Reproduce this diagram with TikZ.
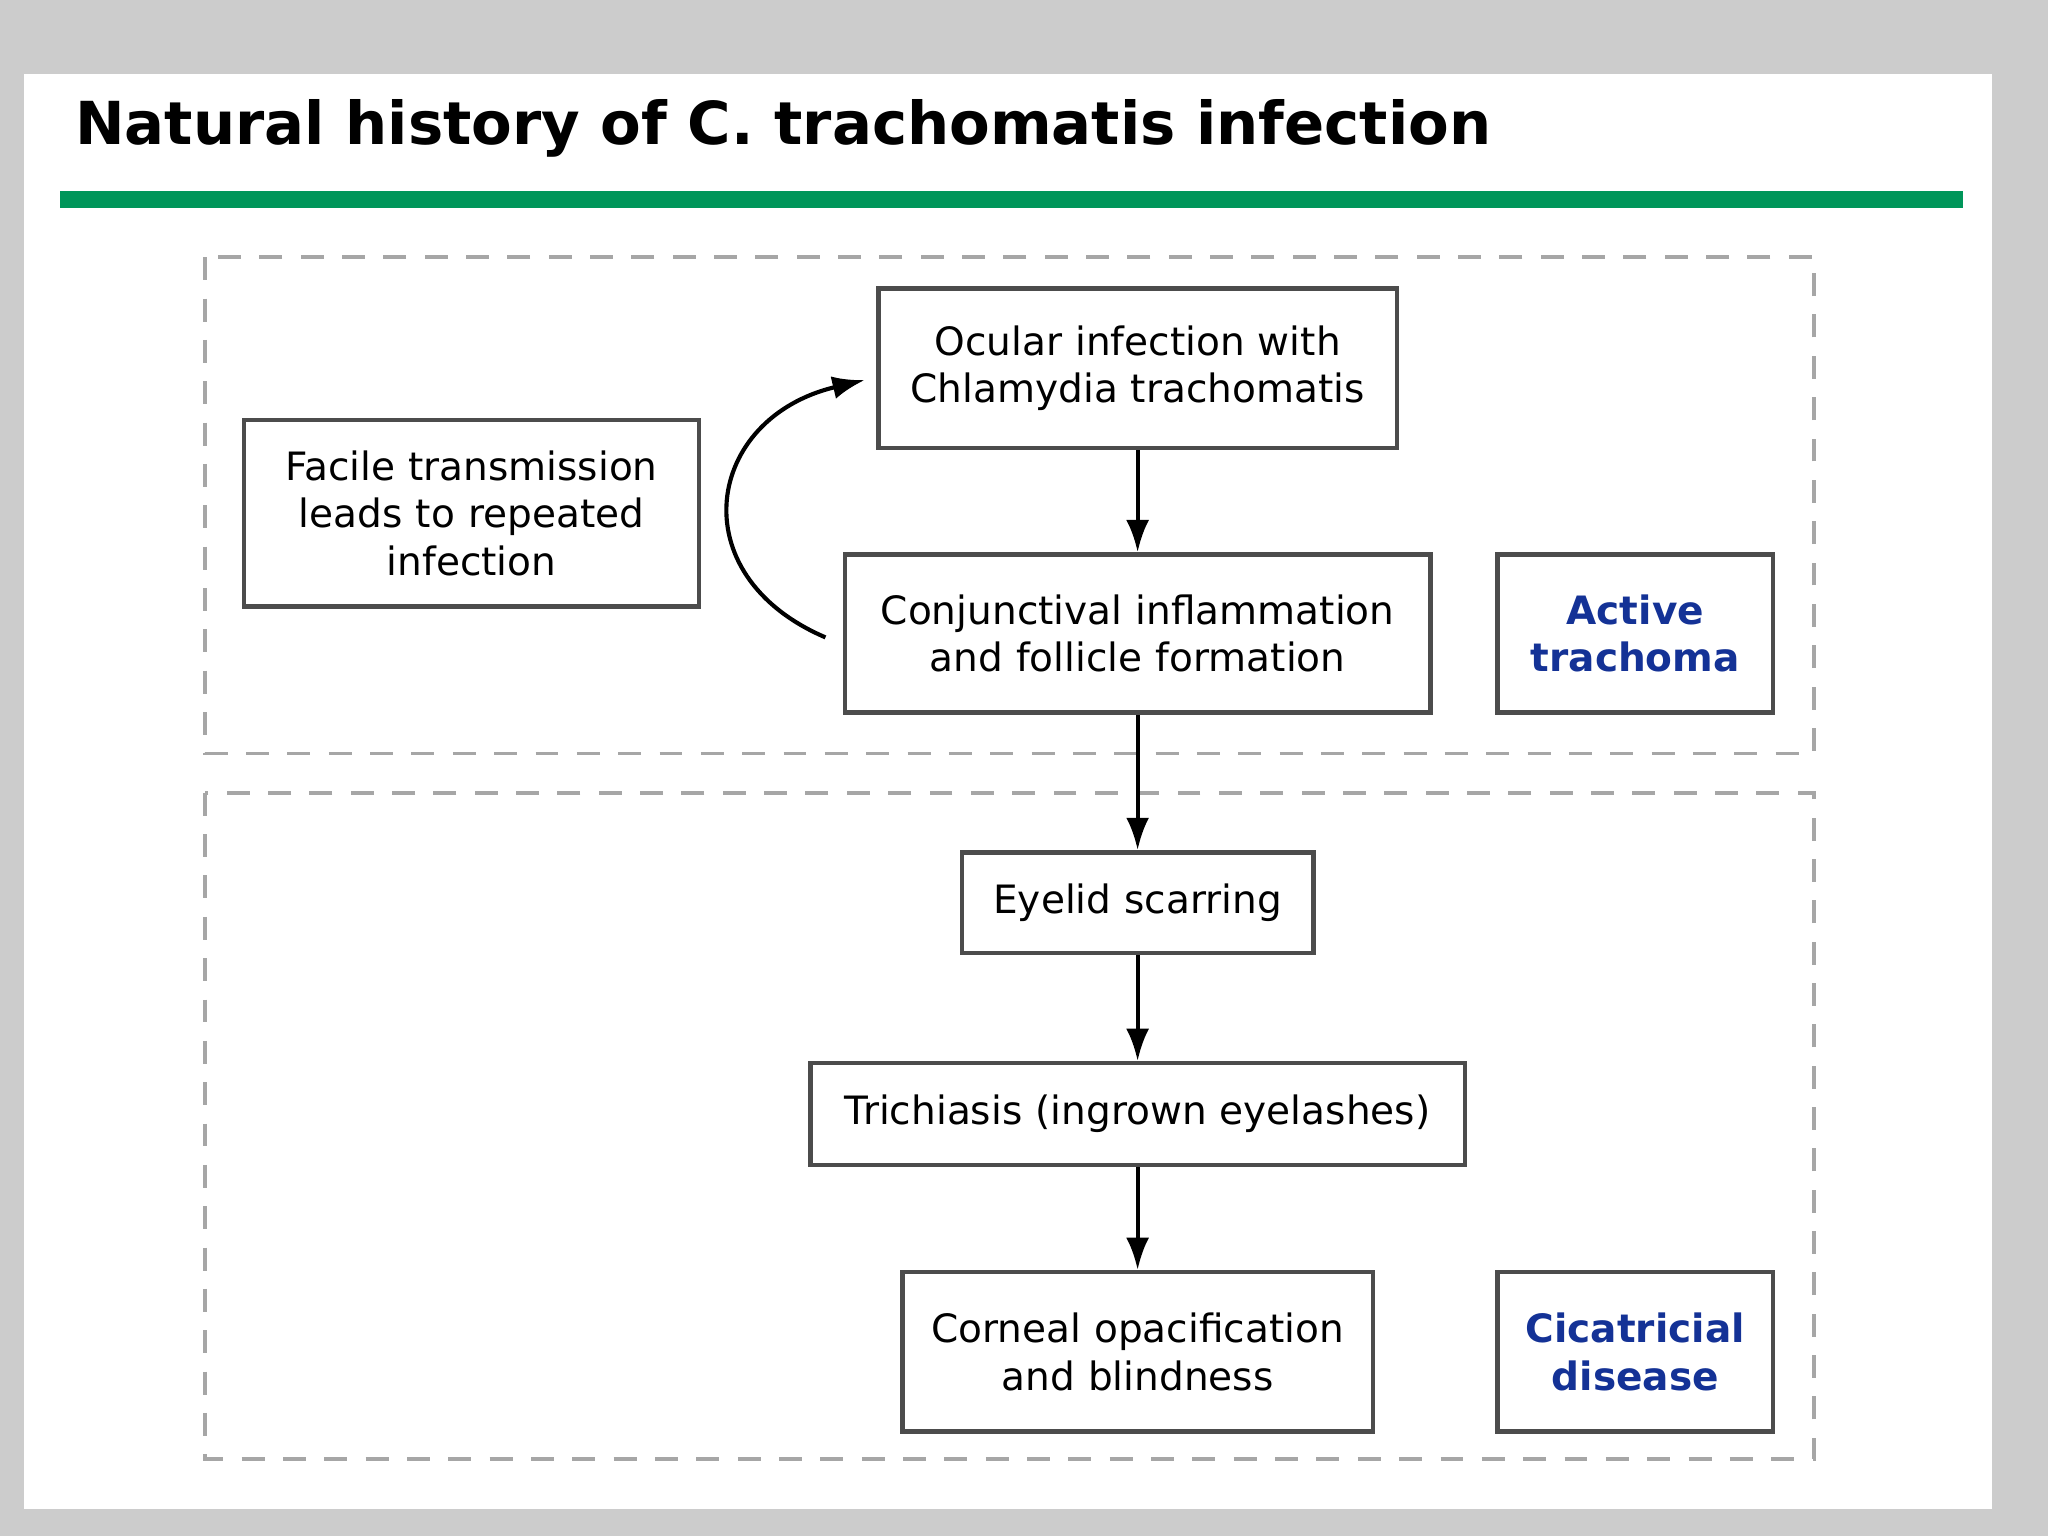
\documentclass[tikz,border=0pt]{standalone}
\usepackage{fontspec}
\setmainfont{DejaVu Sans}
\usetikzlibrary{arrows.meta}
\definecolor{grn}{RGB}{0,150,90}
\definecolor{bl}{RGB}{20,50,150}
\begin{document}
\begin{tikzpicture}[x=0.01cm,y=-0.01cm,
  box/.style={draw=black!70,line width=1pt,fill=white,align=center,inner sep=0pt,font=\fontsize{8.5}{10.3}\selectfont},
  lab/.style={box,text=bl,font=\bfseries\fontsize{8.5}{10.3}\selectfont},
  dbox/.style={draw=black!35,line width=0.8pt,dash pattern=on 5pt off 4pt},
  arr/.style={-{Latex[length=7pt,width=5pt]},line width=0.9pt}]
\useasboundingbox (0,0) rectangle (1568,1176);
\fill[black!20] (0,0) rectangle (1568,1176);
\fill[white] (18,57) rectangle (1525,1155);
\node[anchor=west,font=\bfseries\fontsize{12.9}{14}\selectfont,inner sep=0pt] (title) at (57,98) {Natural history of C. trachomatis infection};
\fill[grn] (46,146) rectangle (1503,159);
\draw[dbox] (157,197) rectangle (1389,577);
\draw[dbox] (157,607) rectangle (1389,1117);
\node[box,text width=3.97cm,minimum height=1.22cm] (oc) at (871,282) {Ocular infection with\\Chlamydia trachomatis};
\node[box,text width=3.48cm,minimum height=1.43cm] (fa) at (361,393) {Facile transmission\\leads to repeated\\infection};
\node[box,text width=4.48cm,minimum height=1.21cm] (co) at (871,485) {Conjunctival inflammation\\and follicle formation};
\node[lab,text width=2.11cm,minimum height=1.21cm] (ac) at (1252,485) {Active\\trachoma};
\node[box,text width=2.69cm,minimum height=0.77cm] (ey) at (871,691) {Eyelid scarring};
\node[box,text width=5.01cm,minimum height=0.78cm] (tr) at (871,853) {Trichiasis (ingrown eyelashes)};
\node[box,text width=3.6cm,minimum height=1.22cm] (cn) at (871,1035) {Corneal opacification\\and blindness};
\node[lab,text width=2.11cm,minimum height=1.22cm] (ci) at (1252,1035) {Cicatricial\\disease};
\coordinate (c1) at (632,488);
\coordinate (c2) at (662,291);
\draw[arr] (oc) -- (co);
\draw[arr] (co) -- (ey);
\draw[arr] (ey) -- (tr);
\draw[arr] (tr) -- (cn);
\draw[arr] (c1) .. controls (520,440) and (540,320) .. (c2);
\end{tikzpicture}
\end{document}
